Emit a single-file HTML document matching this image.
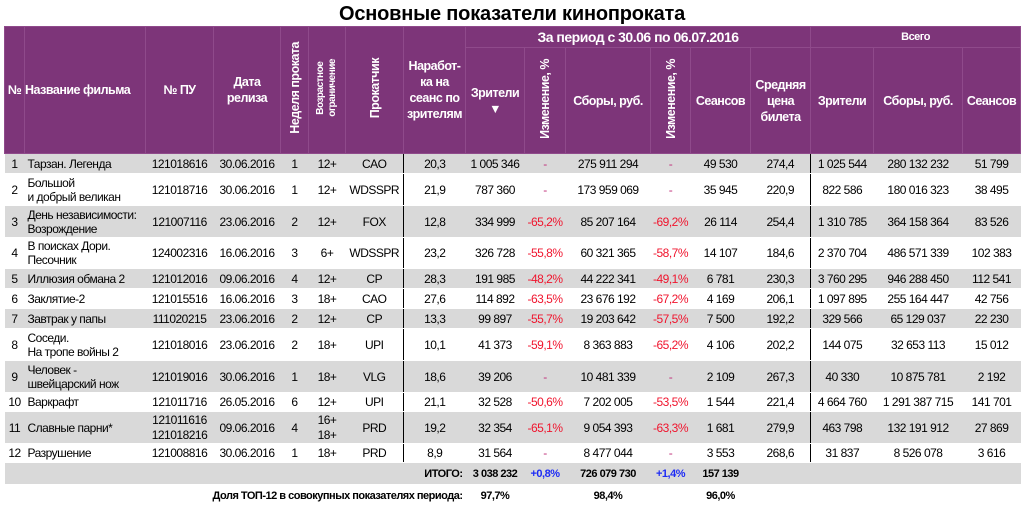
<!DOCTYPE html>
<html><head><meta charset="utf-8"><style>
body{margin:0;width:1024px;height:509px;background:#fff;font-family:"Liberation Sans",sans-serif;overflow:hidden;position:relative}
.t{position:absolute;left:0;top:0;width:1024px;text-align:center;font-weight:bold;font-size:20px;line-height:28px;color:#000;letter-spacing:-0.2px}
table{position:absolute;left:4px;top:26px;border-collapse:collapse;table-layout:fixed;width:1016px;font-size:12px;letter-spacing:-0.5px}
td,th{padding:0;text-align:center;vertical-align:middle;white-space:nowrap;overflow:hidden}
th{background:#7d3579;color:#fff;font-weight:bold;border:1px solid #8f4a8b;line-height:16px;font-size:12.5px}
.v{writing-mode:vertical-rl;transform:rotate(180deg);display:inline-block}
tbody tr:nth-child(odd) td{background:#d9d9d9}
tbody td{border-bottom:1px solid #fff;color:#000}
.l{text-align:left;padding-left:3px;line-height:14px}
.bl{border-left:1px solid #000 !important}
.r{color:#f0142d}
.b{color:#1d2bf5}
.d{color:#c0307a}
</style></head><body>
<div class="t">Основные показатели кинопроката</div>
<table>
<colgroup><col style="width:20px"><col style="width:121px"><col style="width:68px"><col style="width:67px"><col style="width:28px"><col style="width:37px"><col style="width:58px"><col style="width:62px"><col style="width:59px"><col style="width:41px"><col style="width:85px"><col style="width:40px"><col style="width:60px"><col style="width:60px"><col style="width:63px"><col style="width:89px"><col style="width:58px"></colgroup>
<thead>
<tr style="height:21px"><th rowspan="2">№</th><th rowspan="2" style="text-align:left">Название фильма</th><th rowspan="2">№ ПУ</th><th rowspan="2">Дата<br>релиза</th><th rowspan="2"><span class="v">Неделя проката</span></th><th rowspan="2" style="font-size:10px;line-height:12px"><span class="v">Возрастное<br>ограничение</span></th><th rowspan="2"><span class="v">Прокатчик</span></th><th rowspan="2" style="border-left:1px solid #000">Наработ-<br>ка на<br>сеанс по<br>зрителям</th><th colspan="6" style="font-size:14px">За период с 30.06 по 06.07.2016</th><th colspan="3" style="border-left:1px solid #000;font-size:11px">Всего</th></tr>
<tr style="height:106px"><th>Зрители<br>▼</th><th><span class="v">Изменение, %</span></th><th>Сборы, руб.</th><th><span class="v">Изменение, %</span></th><th>Сеансов</th><th>Средняя<br>цена<br>билета</th><th style="border-left:1px solid #000">Зрители</th><th>Сборы, руб.</th><th>Сеансов</th></tr>
</thead>
<tbody>
<tr style="height:20px"><td>1</td><td class="l">Тарзан. Легенда</td><td>121018616</td><td>30.06.2016</td><td>1</td><td>12+</td><td>CAO</td><td class="bl">20,3</td><td>1 005 346</td><td class="d">-</td><td>275 911 294</td><td class="d">-</td><td>49 530</td><td>274,4</td><td class="bl">1 025 544</td><td>280 132 232</td><td>51 799</td></tr>
<tr style="height:32px"><td>2</td><td class="l">Большой<br>и добрый великан</td><td>121018716</td><td>30.06.2016</td><td>1</td><td>12+</td><td>WDSSPR</td><td class="bl">21,9</td><td>787 360</td><td class="d">-</td><td>173 959 069</td><td class="d">-</td><td>35 945</td><td>220,9</td><td class="bl">822 586</td><td>180 016 323</td><td>38 495</td></tr>
<tr style="height:32px"><td>3</td><td class="l">День независимости:<br>Возрождение</td><td>121007116</td><td>23.06.2016</td><td>2</td><td>12+</td><td>FOX</td><td class="bl">12,8</td><td>334 999</td><td class="r">-65,2%</td><td>85 207 164</td><td class="r">-69,2%</td><td>26 114</td><td>254,4</td><td class="bl">1 310 785</td><td>364 158 364</td><td>83 526</td></tr>
<tr style="height:31px"><td>4</td><td class="l">В поисках Дори.<br>Песочник</td><td>124002316</td><td>16.06.2016</td><td>3</td><td>6+</td><td>WDSSPR</td><td class="bl">23,2</td><td>326 728</td><td class="r">-55,8%</td><td>60 321 365</td><td class="r">-58,7%</td><td>14 107</td><td>184,6</td><td class="bl">2 370 704</td><td>486 571 339</td><td>102 383</td></tr>
<tr style="height:20px"><td>5</td><td class="l">Иллюзия обмана 2</td><td>121012016</td><td>09.06.2016</td><td>4</td><td>12+</td><td>CP</td><td class="bl">28,3</td><td>191 985</td><td class="r">-48,2%</td><td>44 222 341</td><td class="r">-49,1%</td><td>6 781</td><td>230,3</td><td class="bl">3 760 295</td><td>946 288 450</td><td>112 541</td></tr>
<tr style="height:20px"><td>6</td><td class="l">Заклятие-2</td><td>121015516</td><td>16.06.2016</td><td>3</td><td>18+</td><td>CAO</td><td class="bl">27,6</td><td>114 892</td><td class="r">-63,5%</td><td>23 676 192</td><td class="r">-67,2%</td><td>4 169</td><td>206,1</td><td class="bl">1 097 895</td><td>255 164 447</td><td>42 756</td></tr>
<tr style="height:20px"><td>7</td><td class="l">Завтрак у папы</td><td>111020215</td><td>23.06.2016</td><td>2</td><td>12+</td><td>CP</td><td class="bl">13,3</td><td>99 897</td><td class="r">-55,7%</td><td>19 203 642</td><td class="r">-57,5%</td><td>7 500</td><td>192,2</td><td class="bl">329 566</td><td>65 129 037</td><td>22 230</td></tr>
<tr style="height:32px"><td>8</td><td class="l">Соседи.<br>На тропе войны 2</td><td>121018016</td><td>23.06.2016</td><td>2</td><td>18+</td><td>UPI</td><td class="bl">10,1</td><td>41 373</td><td class="r">-59,1%</td><td>8 363 883</td><td class="r">-65,2%</td><td>4 106</td><td>202,2</td><td class="bl">144 075</td><td>32 653 113</td><td>15 012</td></tr>
<tr style="height:32px"><td>9</td><td class="l">Человек -<br>швейцарский нож</td><td>121019016</td><td>30.06.2016</td><td>1</td><td>18+</td><td>VLG</td><td class="bl">18,6</td><td>39 206</td><td class="d">-</td><td>10 481 339</td><td class="d">-</td><td>2 109</td><td>267,3</td><td class="bl">40 330</td><td>10 875 781</td><td>2 192</td></tr>
<tr style="height:19px"><td>10</td><td class="l">Варкрафт</td><td>121011716</td><td>26.05.2016</td><td>6</td><td>12+</td><td>UPI</td><td class="bl">21,1</td><td>32 528</td><td class="r">-50,6%</td><td>7 202 005</td><td class="r">-53,5%</td><td>1 544</td><td>221,4</td><td class="bl">4 664 760</td><td>1 291 387 715</td><td>141 701</td></tr>
<tr style="height:32px"><td>11</td><td class="l">Славные парни*</td><td style="line-height:15px">121011616<br>121018216</td><td>09.06.2016</td><td>4</td><td style="line-height:15px">16+<br>18+</td><td>PRD</td><td class="bl">19,2</td><td>32 354</td><td class="r">-65,1%</td><td>9 054 393</td><td class="r">-63,3%</td><td>1 681</td><td>279,9</td><td class="bl">463 798</td><td>132 191 912</td><td>27 869</td></tr>
<tr style="height:19px"><td>12</td><td class="l">Разрушение</td><td>121008816</td><td>30.06.2016</td><td>1</td><td>18+</td><td>PRD</td><td class="bl">8,9</td><td>31 564</td><td class="d">-</td><td>8 477 044</td><td class="d">-</td><td>3 553</td><td>268,6</td><td class="bl">31 837</td><td>8 526 078</td><td>3 616</td></tr>
<tr style="height:22px;font-weight:bold;font-size:11px"><td colspan="8" style="text-align:right;padding-right:3px">ИТОГО:</td><td>3 038 232</td><td class="b">+0,8%</td><td>726 079 730</td><td class="b">+1,4%</td><td>157 139</td><td></td><td></td><td></td><td></td></tr>
<tr style="height:22px;font-weight:bold;font-size:11px"><td colspan="8" style="text-align:right;padding-right:3px;background:#fff">Доля ТОП-12 в совокупных показателях периода:</td><td style="background:#fff">97,7%</td><td style="background:#fff"></td><td style="background:#fff">98,4%</td><td style="background:#fff"></td><td style="background:#fff">96,0%</td><td style="background:#fff"></td><td style="background:#fff"></td><td style="background:#fff"></td><td style="background:#fff"></td></tr>
</tbody>
</table>
</body></html>
